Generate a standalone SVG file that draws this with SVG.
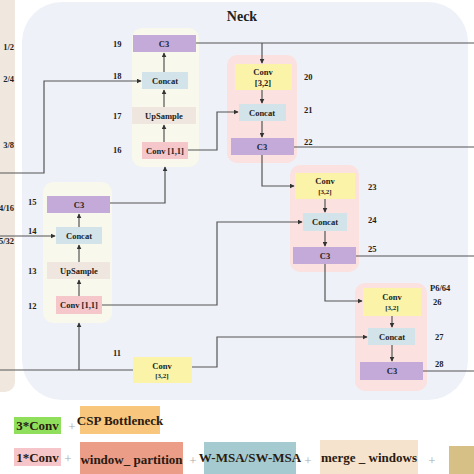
<svg xmlns="http://www.w3.org/2000/svg" width="474" height="474" viewBox="0 0 474 474">
<defs>
<marker id="ah" viewBox="0 0 8 8" refX="7" refY="4" markerWidth="5" markerHeight="5" orient="auto" markerUnits="userSpaceOnUse">
<path d="M0,0 L8,4 L0,8 z" fill="#333"/>
</marker>
<style>
text{font-family:"Liberation Serif","Times New Roman",serif;font-weight:bold;fill:#222}
.n{font-size:8.5px;text-anchor:middle;dominant-baseline:central}
.s{font-size:7px;text-anchor:middle;dominant-baseline:central}
.lb{font-size:8.5px;dominant-baseline:central}
.lg{font-size:13px;text-anchor:middle;dominant-baseline:central;fill:#2a1a10}
.pl{font-size:13px;text-anchor:middle;dominant-baseline:central;fill:#aaa;font-weight:normal}
.c3{fill:#c4aad8}
.cc{fill:#d2e3ea}
.up{fill:#efe6df}
.c11{fill:#f5c6ca}
.c32{fill:#fbf3a8}
.ln{fill:none;stroke:#555;stroke-width:1.2}
</style>
</defs>
<rect x="-20" y="-10" width="35" height="402" rx="10" fill="#f0e8df"/>
<g id="scales">
<text class="lb" x="14" y="47" text-anchor="end">1/2</text>
<text class="lb" x="14" y="79" text-anchor="end">2/4</text>
<text class="lb" x="14" y="145" text-anchor="end">3/8</text>
<text class="lb" x="14" y="208" text-anchor="end">4/16</text>
<text class="lb" x="14" y="241" text-anchor="end">5/32</text>
</g>
<rect x="22" y="2" width="446" height="398" rx="40" fill="#eef1f7"/>
<text x="242" y="16" font-size="14" text-anchor="middle" dominant-baseline="central">Neck</text>
<rect x="43" y="182" width="69" height="141" rx="10" fill="#f8f8ec"/>
<rect x="132" y="28" width="67" height="139" rx="10" fill="#f8f8ec"/>
<rect x="227" y="55" width="70" height="108" rx="10" fill="#fbe1df"/>
<rect x="290" y="165" width="69" height="107" rx="10" fill="#fbe1df"/>
<rect x="355" y="283" width="72" height="108" rx="10" fill="#fbe1df"/>
<g id="connectors">
<path class="ln" d="M0,236 H55" marker-end="url(#ah)"/>
<path class="ln" d="M0,173 H44 V81 H141" marker-end="url(#ah)"/>
<path class="ln" d="M0,370 H133"/>
<path class="ln" d="M79,370 V323" marker-end="url(#ah)"/>
<path class="ln" d="M79,296 V280" marker-end="url(#ah)"/>
<path class="ln" d="M79,262 V245" marker-end="url(#ah)"/>
<path class="ln" d="M79,227 V214" marker-end="url(#ah)"/>
<path class="ln" d="M110,203 H165 V167" marker-end="url(#ah)"/>
<path class="ln" d="M102,305 H217 V222 H302" marker-end="url(#ah)"/>
<path class="ln" d="M164,142 V125" marker-end="url(#ah)"/>
<path class="ln" d="M164,107 V90" marker-end="url(#ah)"/>
<path class="ln" d="M164,72 V53" marker-end="url(#ah)"/>
<path class="ln" d="M196,43 H474"/>
<path class="ln" d="M262,43 V63" marker-end="url(#ah)"/>
<path class="ln" d="M188,150 H217 V112 H238" marker-end="url(#ah)"/>
<path class="ln" d="M262,90 V103" marker-end="url(#ah)"/>
<path class="ln" d="M262,121 V137" marker-end="url(#ah)"/>
<path class="ln" d="M294,147 H474"/>
<path class="ln" d="M262,155 V186 H294" marker-end="url(#ah)"/>
<path class="ln" d="M325,199 V212" marker-end="url(#ah)"/>
<path class="ln" d="M325,231 V246" marker-end="url(#ah)"/>
<path class="ln" d="M356,256 H474"/>
<path class="ln" d="M325,264 V301 H362" marker-end="url(#ah)"/>
<path class="ln" d="M392,316 V327" marker-end="url(#ah)"/>
<path class="ln" d="M392,345 V361" marker-end="url(#ah)"/>
<path class="ln" d="M423,371 H474"/>
<path class="ln" d="M192,367 H217 V337 H367" marker-end="url(#ah)"/>
</g>
<g id="n15"><rect class="c3" x="47" y="196" width="63" height="17"/><text class="n" x="79" y="204.5">C3</text><text class="lb" x="28" y="202">15</text></g>
<g id="n14"><rect class="cc" x="56" y="227" width="46" height="17"/><text class="n" x="79" y="235.5">Concat</text><text class="lb" x="28" y="231">14</text></g>
<g id="n13"><rect class="up" x="47" y="262" width="63" height="17"/><text class="n" x="79" y="270.5">UpSample</text><text class="lb" x="28" y="271">13</text></g>
<g id="n12"><rect class="c11" x="56" y="296" width="46" height="18"/><text class="n" x="79" y="305">Conv [1,1]</text><text class="lb" x="28" y="306">12</text></g>
<g id="n19"><rect class="c3" x="133" y="35" width="63" height="17"/><text class="n" x="164" y="43.5">C3</text><text class="lb" x="113" y="44">19</text></g>
<g id="n18"><rect class="cc" x="142" y="72" width="46" height="17"/><text class="n" x="165" y="80.5">Concat</text><text class="lb" x="113" y="76">18</text></g>
<g id="n17"><rect class="up" x="132" y="107" width="64" height="17"/><text class="n" x="164" y="115.5">UpSample</text><text class="lb" x="113" y="116">17</text></g>
<g id="n16"><rect class="c11" x="142" y="142" width="46" height="17"/><text class="n" x="165" y="150.5">Conv [1,1]</text><text class="lb" x="113" y="150">16</text></g>
<g id="n20"><rect class="c32" x="235" y="64" width="57" height="26"/><text class="n" x="263" y="72">Conv</text><text class="n" x="263" y="83">[3,2]</text><text class="lb" x="304" y="77">20</text></g>
<g id="n21"><rect class="cc" x="239" y="104" width="47" height="17"/><text class="n" x="262" y="112.5">Concat</text><text class="lb" x="304" y="110">21</text></g>
<g id="n22"><rect class="c3" x="231" y="138" width="63" height="17"/><text class="n" x="262" y="146.5">C3</text><text class="lb" x="304" y="142">22</text></g>
<g id="n23"><rect class="c32" x="295" y="173" width="60" height="26"/><text class="n" x="325" y="181">Conv</text><text class="s" x="325" y="192">[3,2]</text><text class="lb" x="368" y="187">23</text></g>
<g id="n24"><rect class="cc" x="303" y="213" width="44" height="18"/><text class="n" x="325" y="222">Concat</text><text class="lb" x="368" y="220">24</text></g>
<g id="n25"><rect class="c3" x="293" y="247" width="63" height="17"/><text class="n" x="325" y="255.5">C3</text><text class="lb" x="368" y="249">25</text></g>
<g id="n26"><rect class="c32" x="363" y="288" width="58" height="28"/><text class="n" x="392" y="297">Conv</text><text class="s" x="392" y="308">[3,2]</text><text class="lb" x="430" y="288">P6/64</text><text class="lb" x="433" y="302">26</text></g>
<g id="n27"><rect class="cc" x="368" y="328" width="47" height="17"/><text class="n" x="392" y="336.5">Concat</text><text class="lb" x="435" y="337">27</text></g>
<g id="n28"><rect class="c3" x="360" y="362" width="63" height="18"/><text class="n" x="392" y="371">C3</text><text class="lb" x="435" y="364">28</text></g>
<g id="n11"><rect class="c32" x="133" y="357" width="59" height="26"/><text class="n" x="162" y="366">Conv</text><text class="s" x="162" y="376">[3,2]</text><text class="lb" x="113" y="353">11</text></g>
<g id="legend">
<rect x="14" y="417" width="47" height="17" fill="#8fdf5c"/><text class="lg" x="37.5" y="425.5" font-size="11">3*Conv</text>
<text class="pl" x="72" y="426">+</text>
<rect x="80" y="406" width="80" height="28" fill="#f8c67c"/><text class="lg" x="120" y="420">CSP Bottleneck</text>
<rect x="14" y="448" width="47" height="18" fill="#f6c5ca"/><text class="lg" x="37.5" y="457" font-size="11">1*Conv</text>
<text class="pl" x="68" y="458">+</text>
<rect x="80" y="442" width="103" height="34" fill="#ec9d88"/><text class="lg" x="131.5" y="459">window_ partition</text>
<text class="pl" x="193" y="460">+</text>
<rect x="204" y="442" width="92" height="34" fill="#a5cbd1"/><text class="lg" x="250" y="457">W-MSA/SW-MSA</text>
<text class="pl" x="308" y="460">+</text>
<rect x="320" y="440" width="98" height="36" fill="#f5e3cd"/><text class="lg" x="369" y="457">merge _ windows</text>
<text class="pl" x="432" y="460">+</text>
<rect x="449" y="446" width="30" height="30" fill="#d7c085"/>
</g>
</svg>
